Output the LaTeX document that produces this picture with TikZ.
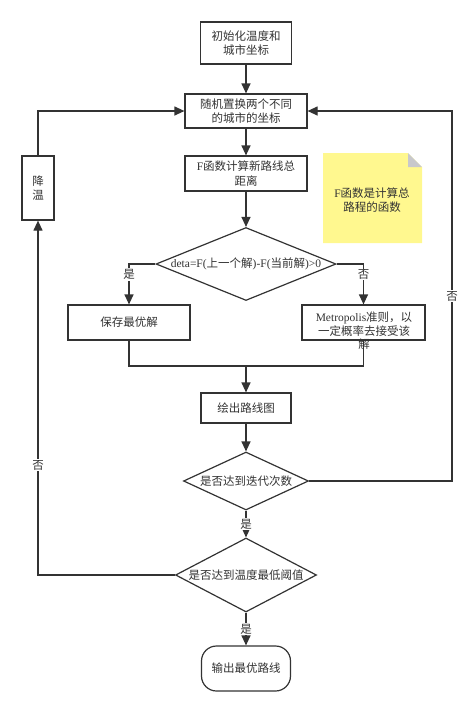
\documentclass[tikz,border=0pt]{standalone}
\usepackage{fontspec}
\setmainfont{Liberation Serif}
\newfontfamily\cjk{Noto Sans CJK SC}
\usepackage{tikz}
\usetikzlibrary{shapes.geometric}
\usetikzlibrary{arrows.meta}
\definecolor{FlowGray}{HTML}{333333}
\definecolor{NoteYellow}{HTML}{FFF88F}
\definecolor{FoldGray}{HTML}{C8C8CC}
\tikzstyle{proc} = [rectangle, draw=FlowGray, line width=1.2pt, fill=white, align=center, inner sep=1pt, text=FlowGray, font=\fontsize{11.5}{14.5}\selectfont\cjk]
\tikzstyle{decide} = [diamond, draw=FlowGray, line width=1.2pt, fill=white, inner sep=0pt, text=FlowGray, font=\fontsize{11.5}{14.5}\selectfont\cjk]
\tikzstyle{term} = [proc, rounded corners=15pt]
\tikzstyle{flow} = [draw=FlowGray, line width=1.2pt, -{Triangle[length=10pt,width=9pt]}]
\tikzstyle{yesno} = [fill=white, inner sep=1pt, text=FlowGray, font=\fontsize{11.5}{14}\selectfont\cjk]
\begin{document}
\begin{tikzpicture}[x=1pt, y=-1pt]
  \useasboundingbox (0,0) rectangle (474,713);
  % boxes of the main chain
  \node[proc, minimum width=91pt, minimum height=42pt] (init) at (246,43) {初始化温度和\\城市坐标};
  \node[proc, minimum width=122pt, minimum height=34pt] (swap) at (246,111) {随机置换两个不同\\的城市的坐标};
  \node[proc, minimum width=122pt, minimum height=35pt] (dist) at (246,173.5) {{\rmfamily F}函数计算新路线总\\距离};
  \node[decide, minimum width=180pt, minimum height=73pt] (dia1) at (246,264)
    {\makebox[0pt]{{\rmfamily deta=F(}上一个解{\rmfamily )-F(}当前解{\rmfamily )>0}}};
  \node[proc, minimum width=122pt, minimum height=35pt] (save) at (129,322.5) {保存最优解};
  \node[proc, minimum width=123pt, minimum height=35pt] (metro) at (363.5,322.5) {};
  \node[text=FlowGray, align=center, font=\fontsize{11.5}{13.5}\selectfont\cjk] (metrotxt) at (364,331)
    {{\rmfamily Metropolis}准则，以\\一定概率去接受该\\解};
  \coordinate (merge) at (246,366);
  \node[proc, minimum width=90pt, minimum height=30pt] (plot) at (246,408) {绘出路线图};
  \node[decide, minimum width=125pt, minimum height=58pt] (dia2) at (246,481) {\makebox[0pt]{是否达到迭代次数}};
  \node[decide, minimum width=141pt, minimum height=74pt] (dia3) at (246,575) {\makebox[0pt]{是否达到温度最低阈值}};
  \node[term, minimum width=89pt, minimum height=45pt] (end) at (246,668.5) {输出最优路线};
  \node[proc, minimum width=32pt, minimum height=64pt] (cool) at (38,188) {降\\温};
  \coordinate (rback) at (452,0);

  % the note
  \fill[NoteYellow] (323,153) -- (408,153) -- (422,167) -- (422,243) -- (323,243) -- cycle;
  \fill[FoldGray] (408,153) -- (408,167) -- (422,167) -- cycle;
  \node[text=FlowGray, align=center, font=\fontsize{11.5}{14.5}\selectfont\cjk] (note) at (372,200)
    {{\rmfamily F}函数是计算总\\路程的函数};

  % connectors
  \draw[flow] (init) -- (swap);
  \draw[flow] (swap) -- (dist);
  \draw[flow] (dist) -- (dia1);
  \draw[flow] (dia1.west) -| node[yesno, pos=0.63] {是} (save.north);
  \draw[flow] (dia1.east) -| node[yesno, pos=0.63] {否} (metro.north);
  \draw[draw=FlowGray, line width=1.2pt] (save.south) |- (merge) -| (metro.south);
  \draw[flow] (merge) -- (plot);
  \draw[flow] (plot) -- (dia2);
  \draw[flow] (dia2) -- node[yesno] {是} (dia3);
  \draw[flow] (dia2.east) -- (dia2.east -| rback) -- node[yesno] {否} (rback |- swap.east) -- (swap.east);
  \draw[flow] (dia3.west) -| node[yesno, pos=0.655] {否} (cool.south);
  \draw[flow] (cool.north) |- (swap.west);
  \draw[flow] (dia3) -- node[yesno] {是} (end);
\end{tikzpicture}
\end{document}
